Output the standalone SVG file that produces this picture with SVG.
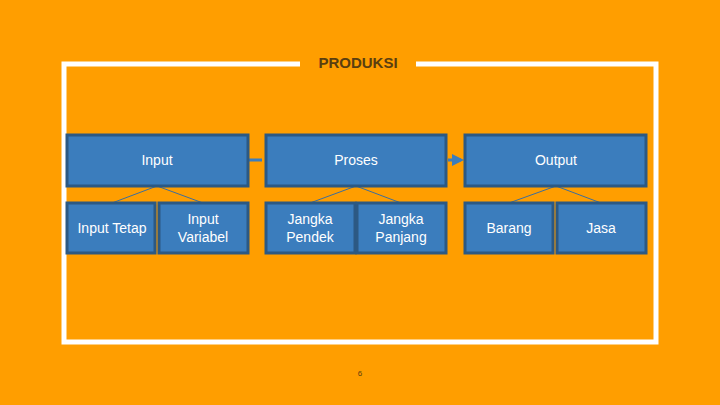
<svg xmlns="http://www.w3.org/2000/svg" width="720" height="405" viewBox="0 0 720 405">
<style>
.b{fill:#3b7dbd;stroke:#2c5983;stroke-width:3}
.t{font-family:"Liberation Sans",Arial,sans-serif;font-size:14px;fill:#fff;text-anchor:middle}
.c{stroke:#3b6e9e;stroke-width:1;fill:none}
.a{stroke:#3b7dbd;stroke-width:3;fill:none}
</style>
<defs><marker id="m" markerWidth="4" markerHeight="4" refX="3" refY="2" orient="auto"><path d="M0,0L4,2L0,4z" fill="#3b7dbd"/></marker></defs>
<rect width="720" height="405" fill="#ff9e00"/>
<path d="M300,64H64V342H656V64H416" fill="none" stroke="#fff" stroke-width="5"/>
<text x="358" y="68" font-family="Liberation Sans,Arial,sans-serif" font-size="15" font-weight="bold" fill="#5a3f10" text-anchor="middle">PRODUKSI</text>
<g id="connectors">
<path class="c" d="M112,203L157,186L203,203M310,203L356,186L401,203M509,203L556,186L601,203"/>
<path class="a" d="M249,160H262M448,160H461" marker-end="url(#m)"/>
</g>
<g id="input"><rect class="b" x="67" y="135" width="181" height="51"/><text class="t" x="157" y="165">Input</text></g>
<g id="proses"><rect class="b" x="266" y="135" width="180" height="51"/><text class="t" x="356" y="165">Proses</text></g>
<g id="output"><rect class="b" x="465" y="135" width="181" height="51"/><text class="t" x="556" y="165">Output</text></g>
<g id="tetap"><rect class="b" x="67" y="203" width="88" height="50"/><text class="t" x="112" y="233">Input Tetap</text></g>
<g id="variabel"><rect class="b" x="159" y="203" width="89" height="50"/><text class="t" x="203" y="224">Input</text><text class="t" x="203" y="242">Variabel</text></g>
<g id="pendek"><rect class="b" x="266" y="203" width="89" height="50"/><text class="t" x="310" y="224">Jangka</text><text class="t" x="310" y="242">Pendek</text></g>
<g id="panjang"><rect class="b" x="357" y="203" width="89" height="50"/><text class="t" x="401" y="224">Jangka</text><text class="t" x="401" y="242">Panjang</text></g>
<g id="barang"><rect class="b" x="465" y="203" width="88" height="50"/><text class="t" x="509" y="233">Barang</text></g>
<g id="jasa"><rect class="b" x="557" y="203" width="89" height="50"/><text class="t" x="601" y="233">Jasa</text></g>
<text x="360" y="376" font-family="Liberation Sans,Arial,sans-serif" font-size="8" fill="#5a3f10" text-anchor="middle">6</text>
</svg>
